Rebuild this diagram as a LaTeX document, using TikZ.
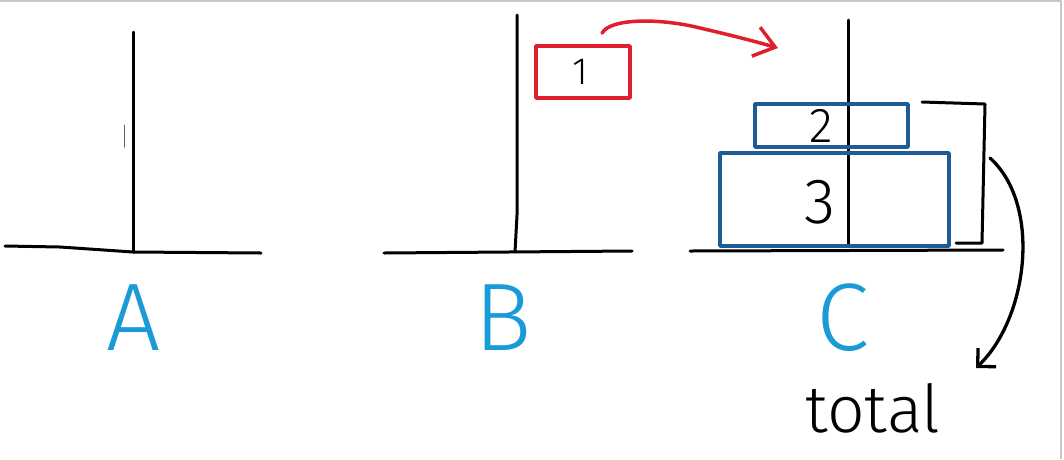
\documentclass[tikz,border=0pt]{standalone}
\usepackage{fontspec}
\IfFontExistsTF{Fira Sans Light}{\setmainfont{Fira Sans Light}}{\setmainfont{Liberation Sans}}
\usetikzlibrary{arrows.meta}
\definecolor{labelblue}{HTML}{1A9BD7}
\definecolor{diskblue}{HTML}{1D5B97}
\definecolor{diskred}{HTML}{DF1F2D}
\begin{document}
\begin{tikzpicture}[x=1pt,y=-1pt,line width=3pt,line cap=round,line join=round,
    disk/.style={draw,rectangle,inner sep=0pt,line width=3.6pt},
    pegname/.style={text=labelblue,font=\fontsize{96}{100}\selectfont},
    barb/.style={-{Straight Barb[length=#1]}}]
    \useasboundingbox (0,0) rectangle (1064,459);
    % Frame
    \draw[black!22,line width=1.5pt,line cap=butt] (0,1) -- (1061,1) -- (1061,459);

    % Pegs
        %A
        \draw (5,246) -- (60,247) -- (133,252) -- (261,253);
        \draw (133,252) -- (133,32);
        \draw[black!60,line width=1pt] (124,125) -- (124,147);
        %B
        \draw (384,253) -- (632,251);
        \draw (515,252) -- (517,215) -- (517,15);
        %C
        \draw (690,251) -- (1003,250);
        \draw (848,245) -- (848,20);

    % Names
    \node[pegname] (nameA) at (134,318) {A};
    \node[pegname] (nameB) at (503,318) {B};
    \node[pegname] (nameC) at (843,318) {C};

    % Disks
    \node[disk,draw=diskred,minimum width=94pt,minimum height=52pt] (disk1) at (583,72) {};
    \node[disk,draw=diskblue,minimum width=153pt,minimum height=43pt] (disk2) at (831.5,125.5) {};
    \node[disk,draw=diskblue,minimum width=229pt,minimum height=93pt] (disk3) at (834.5,199.5) {};
    \node[font=\fontsize{38}{40}\selectfont] (num1) at ([xshift=-3pt]disk1.center) {1};
    \node[font=\fontsize{49}{50}\selectfont] (num2) at ([xshift=-10pt]disk2.center) {2};
    \node[font=\fontsize{64}{66}\selectfont] (num3) at ([xshift=-14pt,yshift=-3pt]disk3.center) {3};

    % Move
    \coordinate (moveto) at (778,48);
    \draw[diskred,line width=3.5pt,barb={20pt,width=30pt}] ([xshift=19pt,yshift=11pt]disk1.north)
        .. controls (610,18) and (660,18) .. (700,28)
        .. controls (730,35) and (750,40) .. (moveto);

    % Total
    \draw (922,102) -- (985,104) -- (982,243) -- (956,243);
    \coordinate (brk) at (990,158);
    \node[font=\fontsize{66}{68}\selectfont] (total) at (873,408) {total};
    \coordinate (tip) at (976,368);
    \draw[line width=3.3pt,barb={13pt,width=26pt}] (brk) .. controls (1042,205) and (1028,318) .. (tip);
\end{tikzpicture}
\end{document}
